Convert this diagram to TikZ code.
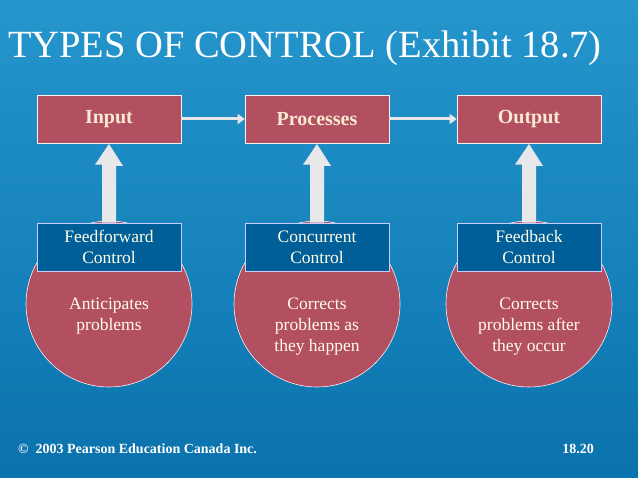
\documentclass[tikz,border=0pt]{standalone}
\usepackage{fontspec}
\setmainfont{Liberation Serif}
\usetikzlibrary{arrows.meta}
\begin{document}
\begin{tikzpicture}[x=1pt,y=-1pt,
  top/.style={draw=white!80!pink,line width=0.6pt,fill=boxred,minimum width=144pt,minimum height=48pt,inner sep=0pt,font=\bfseries\fontsize{20}{22}\selectfont,text=cream},
  ctrl/.style={draw=white!80!blue,line width=0.6pt,fill=ctrlblue,minimum width=144pt,minimum height=48pt,inner sep=0pt,align=center,font=\fontsize{17.5}{21}\selectfont,text=white!90!yellow},
  circ/.style={draw=white!80!pink,line width=0.6pt,fill=boxred,circle,minimum size=166pt,inner sep=0pt},
  ctext/.style={align=center,font=\fontsize{17.5}{21}\selectfont,text=white!90!yellow},
  harrow/.style={draw=arrowgray,line width=3pt,-{Triangle[length=7pt,width=10pt]}},
  varrow/.style={fill=arrowgray,draw=none}]
\definecolor{boxred}{HTML}{B24F60}
\definecolor{ctrlblue}{HTML}{005F99}
\definecolor{cream}{HTML}{F8EAD0}
\definecolor{arrowgray}{HTML}{E8E8EA}
\definecolor{bgtop}{HTML}{2596CD}
\definecolor{bgbot}{HTML}{0A72AC}
\shade[top color=bgtop,bottom color=bgbot] (0,0) rectangle (638,478);
\useasboundingbox (0,0) rectangle (638,478);
\node[anchor=west,inner sep=0pt,text=white,font=\fontsize{38.5}{42}\selectfont] (title) at (8,48) {TYPES OF CONTROL (Exhibit 18.7)};
\foreach \n/\cx/\t/\c/\d in {a/109/Input/Feedforward\\Control/Anticipates\\problems,
  b/317/Processes/Concurrent\\Control/Corrects\\problems as\\they happen,
  c/529/Output/Feedback\\Control/Corrects\\problems after\\they occur}{
  \node[circ] (circ\n) at (\cx,304) {};
  \node[top] (top\n) at (\cx,119) {\t};
  \node[ctrl] (ctrl\n) at (\cx,247) {\c};
  \node[ctext,anchor=north] (txt\n) at (\cx,294) {\d};
  \fill[arrowgray] ([xshift=-7pt]ctrl\n.north) -- ++(0,-58) -- ++(-7,0) -- (\cx,144) -- ([xshift=14pt]ctrl\n.north |- 0,166) -- ++(-7,0) -- ([xshift=7pt]ctrl\n.north) -- cycle;
}
\draw[harrow] (topa.east) -- (topb.west);
\draw[harrow] (topb.east) -- (topc.west);
\node[anchor=west,inner sep=0pt,text=white,font=\bfseries\fontsize{14}{16}\selectfont] (foot) at (18,449) {\textcopyright\ \ 2003 Pearson Education Canada Inc.};
\node[anchor=east,inner sep=0pt,text=white,font=\bfseries\fontsize{14}{16}\selectfont] (page) at (594,449) {18.20};
\end{tikzpicture}
\end{document}
